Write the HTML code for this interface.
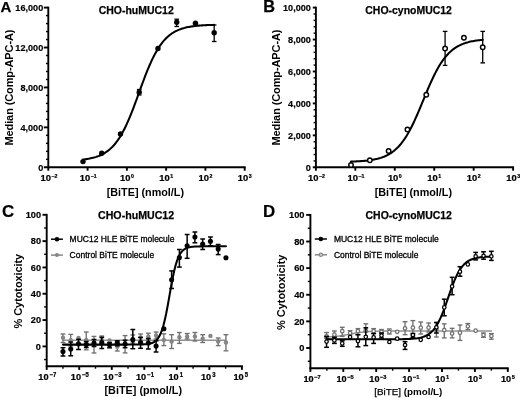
<!DOCTYPE html>
<html lang="en"><head><meta charset="utf-8"><title>Figure</title>
<style>html,body{margin:0;padding:0;background:#fff;}body{width:520px;height:398px;overflow:hidden;}svg{display:block;}</style>
</head><body>
<svg width="520" height="398" viewBox="0 0 520 398" font-family='"Liberation Sans", sans-serif'>
<defs><filter id="soft" x="0" y="0" width="520" height="398" filterUnits="userSpaceOnUse"><feGaussianBlur stdDeviation="0.35"/></filter></defs>
<rect width="520" height="398" fill="#fff"/>
<g filter="url(#soft)">
<line x1="48.30" y1="6.65" x2="48.30" y2="170.70" stroke="#000" stroke-width="1.9" stroke-linecap="butt"/>
<line x1="43.80" y1="167.30" x2="245.65" y2="167.30" stroke="#000" stroke-width="1.9" stroke-linecap="butt"/>
<text transform="translate(43.20,170.50) scale(0.93,1)" font-size="9.8" font-weight="bold" text-anchor="end" fill="#000" stroke="#000" stroke-width="0.2">0</text>
<line x1="46.00" y1="159.31" x2="48.30" y2="159.31" stroke="#000" stroke-width="1.45" stroke-linecap="butt"/>
<line x1="46.00" y1="151.33" x2="48.30" y2="151.33" stroke="#000" stroke-width="1.45" stroke-linecap="butt"/>
<line x1="46.00" y1="143.34" x2="48.30" y2="143.34" stroke="#000" stroke-width="1.45" stroke-linecap="butt"/>
<line x1="46.00" y1="135.36" x2="48.30" y2="135.36" stroke="#000" stroke-width="1.45" stroke-linecap="butt"/>
<line x1="43.80" y1="127.38" x2="48.30" y2="127.38" stroke="#000" stroke-width="1.9" stroke-linecap="butt"/>
<text transform="translate(43.20,130.57) scale(0.93,1)" font-size="9.8" font-weight="bold" text-anchor="end" fill="#000" stroke="#000" stroke-width="0.2">4,000</text>
<line x1="46.00" y1="119.39" x2="48.30" y2="119.39" stroke="#000" stroke-width="1.45" stroke-linecap="butt"/>
<line x1="46.00" y1="111.41" x2="48.30" y2="111.41" stroke="#000" stroke-width="1.45" stroke-linecap="butt"/>
<line x1="46.00" y1="103.42" x2="48.30" y2="103.42" stroke="#000" stroke-width="1.45" stroke-linecap="butt"/>
<line x1="46.00" y1="95.44" x2="48.30" y2="95.44" stroke="#000" stroke-width="1.45" stroke-linecap="butt"/>
<line x1="43.80" y1="87.45" x2="48.30" y2="87.45" stroke="#000" stroke-width="1.9" stroke-linecap="butt"/>
<text transform="translate(43.20,90.65) scale(0.93,1)" font-size="9.8" font-weight="bold" text-anchor="end" fill="#000" stroke="#000" stroke-width="0.2">8,000</text>
<line x1="46.00" y1="79.47" x2="48.30" y2="79.47" stroke="#000" stroke-width="1.45" stroke-linecap="butt"/>
<line x1="46.00" y1="71.48" x2="48.30" y2="71.48" stroke="#000" stroke-width="1.45" stroke-linecap="butt"/>
<line x1="46.00" y1="63.50" x2="48.30" y2="63.50" stroke="#000" stroke-width="1.45" stroke-linecap="butt"/>
<line x1="46.00" y1="55.51" x2="48.30" y2="55.51" stroke="#000" stroke-width="1.45" stroke-linecap="butt"/>
<line x1="43.80" y1="47.53" x2="48.30" y2="47.53" stroke="#000" stroke-width="1.9" stroke-linecap="butt"/>
<text transform="translate(43.20,50.73) scale(0.93,1)" font-size="9.8" font-weight="bold" text-anchor="end" fill="#000" stroke="#000" stroke-width="0.2">12,000</text>
<line x1="46.00" y1="39.54" x2="48.30" y2="39.54" stroke="#000" stroke-width="1.45" stroke-linecap="butt"/>
<line x1="46.00" y1="31.56" x2="48.30" y2="31.56" stroke="#000" stroke-width="1.45" stroke-linecap="butt"/>
<line x1="46.00" y1="23.57" x2="48.30" y2="23.57" stroke="#000" stroke-width="1.45" stroke-linecap="butt"/>
<line x1="46.00" y1="15.59" x2="48.30" y2="15.59" stroke="#000" stroke-width="1.45" stroke-linecap="butt"/>
<line x1="43.80" y1="7.60" x2="48.30" y2="7.60" stroke="#000" stroke-width="1.9" stroke-linecap="butt"/>
<text transform="translate(43.20,10.80) scale(0.93,1)" font-size="9.8" font-weight="bold" text-anchor="end" fill="#000" stroke="#000" stroke-width="0.2">16,000</text>
<text transform="translate(40.50,180.80) scale(0.98,1)" font-size="9.6" font-weight="bold" fill="#000" stroke="#000" stroke-width="0.25">10<tspan font-size="5.3" dx="0.51" dy="-2.70">−2</tspan></text>
<line x1="87.58" y1="167.30" x2="87.58" y2="170.70" stroke="#000" stroke-width="1.9" stroke-linecap="butt"/>
<text transform="translate(79.78,180.80) scale(0.98,1)" font-size="9.6" font-weight="bold" fill="#000" stroke="#000" stroke-width="0.25">10<tspan font-size="5.3" dx="0.51" dy="-2.70">−1</tspan></text>
<line x1="126.86" y1="167.30" x2="126.86" y2="170.70" stroke="#000" stroke-width="1.9" stroke-linecap="butt"/>
<text transform="translate(119.96,180.80) scale(0.98,1)" font-size="9.6" font-weight="bold" fill="#000" stroke="#000" stroke-width="0.25">10<tspan font-size="5.3" dx="0.51" dy="-2.70">0</tspan></text>
<line x1="166.14" y1="167.30" x2="166.14" y2="170.70" stroke="#000" stroke-width="1.9" stroke-linecap="butt"/>
<text transform="translate(159.24,180.80) scale(0.98,1)" font-size="9.6" font-weight="bold" fill="#000" stroke="#000" stroke-width="0.25">10<tspan font-size="5.3" dx="0.51" dy="-2.70">1</tspan></text>
<line x1="205.42" y1="167.30" x2="205.42" y2="170.70" stroke="#000" stroke-width="1.9" stroke-linecap="butt"/>
<text transform="translate(198.52,180.80) scale(0.98,1)" font-size="9.6" font-weight="bold" fill="#000" stroke="#000" stroke-width="0.25">10<tspan font-size="5.3" dx="0.51" dy="-2.70">2</tspan></text>
<line x1="244.70" y1="167.30" x2="244.70" y2="170.70" stroke="#000" stroke-width="1.9" stroke-linecap="butt"/>
<text transform="translate(237.80,180.80) scale(0.98,1)" font-size="9.6" font-weight="bold" fill="#000" stroke="#000" stroke-width="0.25">10<tspan font-size="5.3" dx="0.51" dy="-2.70">3</tspan></text>
<text x="98.70" y="14.40" font-size="11.3" font-weight="bold" text-anchor="start" fill="#000" textLength="75.1" lengthAdjust="spacingAndGlyphs" stroke="#000" stroke-width="0.25">CHO-huMUC12</text>
<text x="0.50" y="11.90" font-size="15.0" font-weight="bold" text-anchor="start" fill="#000" stroke="#000" stroke-width="0.25">A</text>
<text transform="translate(12.5,87.5) rotate(-90)" font-size="11" font-weight="bold" text-anchor="middle" fill="#000" textLength="116" lengthAdjust="spacing">Median (Comp-APC-A)</text>
<text x="145.40" y="196.30" font-size="10.8" font-weight="bold" text-anchor="middle" fill="#000" >[BiTE] (nmol/L)</text>
<path d="M83.00,159.56 L84.09,159.42 L85.19,159.28 L86.28,159.12 L87.37,158.95 L88.47,158.76 L89.56,158.56 L90.65,158.33 L91.75,158.09 L92.84,157.83 L93.93,157.54 L95.03,157.23 L96.12,156.89 L97.21,156.52 L98.31,156.12 L99.40,155.69 L100.49,155.21 L101.59,154.70 L102.68,154.15 L103.77,153.55 L104.86,152.90 L105.96,152.20 L107.05,151.44 L108.14,150.62 L109.24,149.74 L110.33,148.79 L111.42,147.77 L112.52,146.68 L113.61,145.50 L114.70,144.25 L115.80,142.90 L116.89,141.47 L117.98,139.94 L119.08,138.31 L120.17,136.59 L121.26,134.77 L122.36,132.84 L123.45,130.81 L124.54,128.68 L125.64,126.45 L126.73,124.12 L127.82,121.69 L128.92,119.17 L130.01,116.56 L131.10,113.87 L132.20,111.11 L133.29,108.27 L134.38,105.39 L135.48,102.45 L136.57,99.48 L137.66,96.48 L138.76,93.46 L139.85,90.45 L140.94,87.44 L142.04,84.46 L143.13,81.50 L144.22,78.59 L145.31,75.73 L146.41,72.94 L147.50,70.21 L148.59,67.57 L149.69,65.01 L150.78,62.54 L151.87,60.16 L152.97,57.88 L154.06,55.71 L155.15,53.63 L156.25,51.66 L157.34,49.79 L158.43,48.03 L159.53,46.36 L160.62,44.79 L161.71,43.31 L162.81,41.93 L163.90,40.63 L164.99,39.42 L166.09,38.29 L167.18,37.23 L168.27,36.25 L169.37,35.34 L170.46,34.50 L171.55,33.71 L172.65,32.99 L173.74,32.31 L174.83,31.69 L175.93,31.12 L177.02,30.59 L178.11,30.10 L179.21,29.65 L180.30,29.23 L181.39,28.85 L182.49,28.50 L183.58,28.18 L184.67,27.88 L185.76,27.60 L186.86,27.35 L187.95,27.12 L189.04,26.91 L190.14,26.71 L191.23,26.53 L192.32,26.37 L193.42,26.22 L194.51,26.08 L195.60,25.95 L196.70,25.84 L197.79,25.73 L198.88,25.63 L199.98,25.54 L201.07,25.46 L202.16,25.39 L203.26,25.32 L204.35,25.25 L205.44,25.20 L206.54,25.14 L207.63,25.10 L208.72,25.05 L209.82,25.01 L210.91,24.97 L212.00,24.94 L213.10,24.91 L214.19,24.88" fill="none" stroke="#000" stroke-width="2.05" stroke-linejoin="round" stroke-linecap="round"/>
<circle cx="83.00" cy="161.60" r="2.7" fill="#000"/>
<circle cx="101.74" cy="153.30" r="2.7" fill="#000"/>
<circle cx="120.48" cy="134.00" r="2.7" fill="#000"/>
<line x1="139.22" y1="89.50" x2="139.22" y2="95.00" stroke="#000" stroke-width="1.3" stroke-linecap="butt"/>
<line x1="136.92" y1="89.50" x2="141.52" y2="89.50" stroke="#000" stroke-width="1.3" stroke-linecap="butt"/>
<line x1="136.92" y1="95.00" x2="141.52" y2="95.00" stroke="#000" stroke-width="1.3" stroke-linecap="butt"/>
<circle cx="139.22" cy="92.30" r="2.7" fill="#000"/>
<circle cx="157.97" cy="48.50" r="2.7" fill="#000"/>
<line x1="176.71" y1="19.20" x2="176.71" y2="26.50" stroke="#000" stroke-width="1.3" stroke-linecap="butt"/>
<line x1="174.41" y1="19.20" x2="179.01" y2="19.20" stroke="#000" stroke-width="1.3" stroke-linecap="butt"/>
<line x1="174.41" y1="26.50" x2="179.01" y2="26.50" stroke="#000" stroke-width="1.3" stroke-linecap="butt"/>
<circle cx="176.71" cy="22.20" r="2.7" fill="#000"/>
<circle cx="195.45" cy="23.30" r="2.7" fill="#000"/>
<line x1="214.19" y1="25.00" x2="214.19" y2="41.50" stroke="#000" stroke-width="1.3" stroke-linecap="butt"/>
<line x1="211.89" y1="25.00" x2="216.49" y2="25.00" stroke="#000" stroke-width="1.3" stroke-linecap="butt"/>
<line x1="211.89" y1="41.50" x2="216.49" y2="41.50" stroke="#000" stroke-width="1.3" stroke-linecap="butt"/>
<circle cx="214.19" cy="32.70" r="2.7" fill="#000"/>
<line x1="315.90" y1="6.65" x2="315.90" y2="170.70" stroke="#000" stroke-width="1.9" stroke-linecap="butt"/>
<line x1="312.80" y1="167.30" x2="514.05" y2="167.30" stroke="#000" stroke-width="1.9" stroke-linecap="butt"/>
<text transform="translate(310.90,170.50) scale(0.93,1)" font-size="9.8" font-weight="bold" text-anchor="end" fill="#000" stroke="#000" stroke-width="0.2">0</text>
<line x1="313.60" y1="160.91" x2="315.90" y2="160.91" stroke="#000" stroke-width="1.45" stroke-linecap="butt"/>
<line x1="313.60" y1="154.52" x2="315.90" y2="154.52" stroke="#000" stroke-width="1.45" stroke-linecap="butt"/>
<line x1="313.60" y1="148.14" x2="315.90" y2="148.14" stroke="#000" stroke-width="1.45" stroke-linecap="butt"/>
<line x1="313.60" y1="141.75" x2="315.90" y2="141.75" stroke="#000" stroke-width="1.45" stroke-linecap="butt"/>
<line x1="312.80" y1="135.36" x2="315.90" y2="135.36" stroke="#000" stroke-width="1.9" stroke-linecap="butt"/>
<text transform="translate(310.90,138.56) scale(0.93,1)" font-size="9.8" font-weight="bold" text-anchor="end" fill="#000" stroke="#000" stroke-width="0.2">2,000</text>
<line x1="313.60" y1="128.97" x2="315.90" y2="128.97" stroke="#000" stroke-width="1.45" stroke-linecap="butt"/>
<line x1="313.60" y1="122.58" x2="315.90" y2="122.58" stroke="#000" stroke-width="1.45" stroke-linecap="butt"/>
<line x1="313.60" y1="116.20" x2="315.90" y2="116.20" stroke="#000" stroke-width="1.45" stroke-linecap="butt"/>
<line x1="313.60" y1="109.81" x2="315.90" y2="109.81" stroke="#000" stroke-width="1.45" stroke-linecap="butt"/>
<line x1="312.80" y1="103.42" x2="315.90" y2="103.42" stroke="#000" stroke-width="1.9" stroke-linecap="butt"/>
<text transform="translate(310.90,106.62) scale(0.93,1)" font-size="9.8" font-weight="bold" text-anchor="end" fill="#000" stroke="#000" stroke-width="0.2">4,000</text>
<line x1="313.60" y1="97.03" x2="315.90" y2="97.03" stroke="#000" stroke-width="1.45" stroke-linecap="butt"/>
<line x1="313.60" y1="90.64" x2="315.90" y2="90.64" stroke="#000" stroke-width="1.45" stroke-linecap="butt"/>
<line x1="313.60" y1="84.26" x2="315.90" y2="84.26" stroke="#000" stroke-width="1.45" stroke-linecap="butt"/>
<line x1="313.60" y1="77.87" x2="315.90" y2="77.87" stroke="#000" stroke-width="1.45" stroke-linecap="butt"/>
<line x1="312.80" y1="71.48" x2="315.90" y2="71.48" stroke="#000" stroke-width="1.9" stroke-linecap="butt"/>
<text transform="translate(310.90,74.68) scale(0.93,1)" font-size="9.8" font-weight="bold" text-anchor="end" fill="#000" stroke="#000" stroke-width="0.2">6,000</text>
<line x1="313.60" y1="65.09" x2="315.90" y2="65.09" stroke="#000" stroke-width="1.45" stroke-linecap="butt"/>
<line x1="313.60" y1="58.70" x2="315.90" y2="58.70" stroke="#000" stroke-width="1.45" stroke-linecap="butt"/>
<line x1="313.60" y1="52.32" x2="315.90" y2="52.32" stroke="#000" stroke-width="1.45" stroke-linecap="butt"/>
<line x1="313.60" y1="45.93" x2="315.90" y2="45.93" stroke="#000" stroke-width="1.45" stroke-linecap="butt"/>
<line x1="312.80" y1="39.54" x2="315.90" y2="39.54" stroke="#000" stroke-width="1.9" stroke-linecap="butt"/>
<text transform="translate(310.90,42.74) scale(0.93,1)" font-size="9.8" font-weight="bold" text-anchor="end" fill="#000" stroke="#000" stroke-width="0.2">8,000</text>
<line x1="313.60" y1="33.15" x2="315.90" y2="33.15" stroke="#000" stroke-width="1.45" stroke-linecap="butt"/>
<line x1="313.60" y1="26.76" x2="315.90" y2="26.76" stroke="#000" stroke-width="1.45" stroke-linecap="butt"/>
<line x1="313.60" y1="20.38" x2="315.90" y2="20.38" stroke="#000" stroke-width="1.45" stroke-linecap="butt"/>
<line x1="313.60" y1="13.99" x2="315.90" y2="13.99" stroke="#000" stroke-width="1.45" stroke-linecap="butt"/>
<line x1="312.80" y1="7.60" x2="315.90" y2="7.60" stroke="#000" stroke-width="1.9" stroke-linecap="butt"/>
<text transform="translate(310.90,10.80) scale(0.93,1)" font-size="9.8" font-weight="bold" text-anchor="end" fill="#000" stroke="#000" stroke-width="0.2">10,000</text>
<text transform="translate(308.10,180.80) scale(0.98,1)" font-size="9.6" font-weight="bold" fill="#000" stroke="#000" stroke-width="0.25">10<tspan font-size="5.3" dx="0.51" dy="-2.70">−2</tspan></text>
<line x1="355.34" y1="167.30" x2="355.34" y2="170.70" stroke="#000" stroke-width="1.9" stroke-linecap="butt"/>
<text transform="translate(347.54,180.80) scale(0.98,1)" font-size="9.6" font-weight="bold" fill="#000" stroke="#000" stroke-width="0.25">10<tspan font-size="5.3" dx="0.51" dy="-2.70">−1</tspan></text>
<line x1="394.78" y1="167.30" x2="394.78" y2="170.70" stroke="#000" stroke-width="1.9" stroke-linecap="butt"/>
<text transform="translate(387.88,180.80) scale(0.98,1)" font-size="9.6" font-weight="bold" fill="#000" stroke="#000" stroke-width="0.25">10<tspan font-size="5.3" dx="0.51" dy="-2.70">0</tspan></text>
<line x1="434.22" y1="167.30" x2="434.22" y2="170.70" stroke="#000" stroke-width="1.9" stroke-linecap="butt"/>
<text transform="translate(427.32,180.80) scale(0.98,1)" font-size="9.6" font-weight="bold" fill="#000" stroke="#000" stroke-width="0.25">10<tspan font-size="5.3" dx="0.51" dy="-2.70">1</tspan></text>
<line x1="473.66" y1="167.30" x2="473.66" y2="170.70" stroke="#000" stroke-width="1.9" stroke-linecap="butt"/>
<text transform="translate(466.76,180.80) scale(0.98,1)" font-size="9.6" font-weight="bold" fill="#000" stroke="#000" stroke-width="0.25">10<tspan font-size="5.3" dx="0.51" dy="-2.70">2</tspan></text>
<line x1="513.10" y1="167.30" x2="513.10" y2="170.70" stroke="#000" stroke-width="1.9" stroke-linecap="butt"/>
<text transform="translate(506.20,180.80) scale(0.98,1)" font-size="9.6" font-weight="bold" fill="#000" stroke="#000" stroke-width="0.25">10<tspan font-size="5.3" dx="0.51" dy="-2.70">3</tspan></text>
<text x="365.30" y="14.40" font-size="11.3" font-weight="bold" text-anchor="start" fill="#000" textLength="86.6" lengthAdjust="spacingAndGlyphs" stroke="#000" stroke-width="0.25">CHO-cynoMUC12</text>
<text x="263.30" y="12.20" font-size="16.3" font-weight="bold" text-anchor="start" fill="#000" stroke="#000" stroke-width="0.25">B</text>
<text transform="translate(280.4,87.5) rotate(-90)" font-size="11" font-weight="bold" text-anchor="middle" fill="#000" textLength="116" lengthAdjust="spacing">Median (Comp-APC-A)</text>
<text x="413.40" y="196.30" font-size="10.8" font-weight="bold" text-anchor="middle" fill="#000" >[BiTE] (nmol/L)</text>
<path d="M351.00,161.61 L352.10,161.58 L353.20,161.54 L354.29,161.49 L355.39,161.44 L356.49,161.39 L357.59,161.33 L358.68,161.27 L359.78,161.20 L360.88,161.13 L361.98,161.05 L363.07,160.96 L364.17,160.86 L365.27,160.76 L366.37,160.65 L367.47,160.52 L368.56,160.39 L369.66,160.24 L370.76,160.08 L371.86,159.91 L372.95,159.72 L374.05,159.52 L375.15,159.30 L376.25,159.06 L377.34,158.80 L378.44,158.51 L379.54,158.20 L380.64,157.87 L381.74,157.51 L382.83,157.11 L383.93,156.69 L385.03,156.23 L386.13,155.73 L387.22,155.20 L388.32,154.61 L389.42,153.99 L390.52,153.31 L391.61,152.59 L392.71,151.80 L393.81,150.96 L394.91,150.06 L396.01,149.09 L397.10,148.05 L398.20,146.94 L399.30,145.76 L400.40,144.50 L401.49,143.16 L402.59,141.73 L403.69,140.22 L404.79,138.63 L405.88,136.94 L406.98,135.17 L408.08,133.31 L409.18,131.36 L410.28,129.32 L411.37,127.20 L412.47,125.00 L413.57,122.72 L414.67,120.37 L415.76,117.95 L416.86,115.47 L417.96,112.94 L419.06,110.36 L420.15,107.75 L421.25,105.11 L422.35,102.45 L423.45,99.78 L424.55,97.12 L425.64,94.47 L426.74,91.84 L427.84,89.24 L428.94,86.68 L430.03,84.17 L431.13,81.72 L432.23,79.33 L433.33,77.01 L434.42,74.77 L435.52,72.60 L436.62,70.52 L437.72,68.52 L438.82,66.61 L439.91,64.79 L441.01,63.06 L442.11,61.41 L443.21,59.85 L444.30,58.38 L445.40,57.00 L446.50,55.69 L447.60,54.47 L448.70,53.32 L449.79,52.24 L450.89,51.24 L451.99,50.30 L453.09,49.42 L454.18,48.61 L455.28,47.85 L456.38,47.15 L457.48,46.49 L458.57,45.89 L459.67,45.33 L460.77,44.81 L461.87,44.33 L462.97,43.89 L464.06,43.48 L465.16,43.10 L466.26,42.75 L467.36,42.43 L468.45,42.13 L469.55,41.85 L470.65,41.60 L471.75,41.37 L472.84,41.16 L473.94,40.96 L475.04,40.78 L476.14,40.61 L477.24,40.46 L478.33,40.32 L479.43,40.19 L480.53,40.07 L481.63,39.96 L482.72,39.86" fill="none" stroke="#000" stroke-width="2.05" stroke-linejoin="round" stroke-linecap="round"/>
<circle cx="351.00" cy="164.90" r="2.23" fill="#fff" stroke="#000" stroke-width="1.45"/>
<circle cx="369.82" cy="160.30" r="2.23" fill="#fff" stroke="#000" stroke-width="1.45"/>
<circle cx="388.64" cy="151.00" r="2.23" fill="#fff" stroke="#000" stroke-width="1.45"/>
<circle cx="407.45" cy="129.40" r="2.23" fill="#fff" stroke="#000" stroke-width="1.45"/>
<circle cx="426.27" cy="94.80" r="2.23" fill="#fff" stroke="#000" stroke-width="1.45"/>
<line x1="445.09" y1="31.40" x2="445.09" y2="65.40" stroke="#000" stroke-width="1.3" stroke-linecap="butt"/>
<line x1="442.79" y1="31.40" x2="447.39" y2="31.40" stroke="#000" stroke-width="1.3" stroke-linecap="butt"/>
<line x1="442.79" y1="65.40" x2="447.39" y2="65.40" stroke="#000" stroke-width="1.3" stroke-linecap="butt"/>
<circle cx="445.09" cy="48.50" r="2.23" fill="#fff" stroke="#000" stroke-width="1.45"/>
<circle cx="463.91" cy="37.70" r="2.23" fill="#fff" stroke="#000" stroke-width="1.45"/>
<line x1="482.72" y1="31.40" x2="482.72" y2="62.90" stroke="#000" stroke-width="1.3" stroke-linecap="butt"/>
<line x1="480.42" y1="31.40" x2="485.02" y2="31.40" stroke="#000" stroke-width="1.3" stroke-linecap="butt"/>
<line x1="480.42" y1="62.90" x2="485.02" y2="62.90" stroke="#000" stroke-width="1.3" stroke-linecap="butt"/>
<circle cx="482.72" cy="47.30" r="2.23" fill="#fff" stroke="#000" stroke-width="1.45"/>
<line x1="46.70" y1="213.85" x2="46.70" y2="369.90" stroke="#000" stroke-width="1.9" stroke-linecap="butt"/>
<line x1="45.75" y1="366.30" x2="242.85" y2="366.30" stroke="#000" stroke-width="1.9" stroke-linecap="butt"/>
<line x1="42.50" y1="346.40" x2="46.70" y2="346.40" stroke="#000" stroke-width="1.9" stroke-linecap="butt"/>
<text transform="translate(41.00,349.60) scale(0.96,1)" font-size="9.6" font-weight="bold" text-anchor="end" fill="#000" stroke="#000" stroke-width="0.2">0</text>
<line x1="42.50" y1="320.08" x2="46.70" y2="320.08" stroke="#000" stroke-width="1.9" stroke-linecap="butt"/>
<text transform="translate(41.00,323.28) scale(0.96,1)" font-size="9.6" font-weight="bold" text-anchor="end" fill="#000" stroke="#000" stroke-width="0.2">20</text>
<line x1="42.50" y1="293.76" x2="46.70" y2="293.76" stroke="#000" stroke-width="1.9" stroke-linecap="butt"/>
<text transform="translate(41.00,296.96) scale(0.96,1)" font-size="9.6" font-weight="bold" text-anchor="end" fill="#000" stroke="#000" stroke-width="0.2">40</text>
<line x1="42.50" y1="267.44" x2="46.70" y2="267.44" stroke="#000" stroke-width="1.9" stroke-linecap="butt"/>
<text transform="translate(41.00,270.64) scale(0.96,1)" font-size="9.6" font-weight="bold" text-anchor="end" fill="#000" stroke="#000" stroke-width="0.2">60</text>
<line x1="42.50" y1="241.12" x2="46.70" y2="241.12" stroke="#000" stroke-width="1.9" stroke-linecap="butt"/>
<text transform="translate(41.00,244.32) scale(0.96,1)" font-size="9.6" font-weight="bold" text-anchor="end" fill="#000" stroke="#000" stroke-width="0.2">80</text>
<line x1="42.50" y1="214.80" x2="46.70" y2="214.80" stroke="#000" stroke-width="1.9" stroke-linecap="butt"/>
<text transform="translate(41.00,218.00) scale(0.96,1)" font-size="9.6" font-weight="bold" text-anchor="end" fill="#000" stroke="#000" stroke-width="0.2">100</text>
<line x1="44.10" y1="359.56" x2="46.70" y2="359.56" stroke="#000" stroke-width="1.4" stroke-linecap="butt"/>
<line x1="44.10" y1="333.24" x2="46.70" y2="333.24" stroke="#000" stroke-width="1.4" stroke-linecap="butt"/>
<line x1="44.10" y1="306.92" x2="46.70" y2="306.92" stroke="#000" stroke-width="1.4" stroke-linecap="butt"/>
<line x1="44.10" y1="280.60" x2="46.70" y2="280.60" stroke="#000" stroke-width="1.4" stroke-linecap="butt"/>
<line x1="44.10" y1="254.28" x2="46.70" y2="254.28" stroke="#000" stroke-width="1.4" stroke-linecap="butt"/>
<line x1="44.10" y1="227.96" x2="46.70" y2="227.96" stroke="#000" stroke-width="1.4" stroke-linecap="butt"/>
<text transform="translate(38.30,380.40) scale(0.94,1)" font-size="9.8" font-weight="bold" fill="#000" stroke="#000" stroke-width="0.25">10<tspan font-size="6.3" dx="1.17" dy="-3.40">−7</tspan></text>
<line x1="62.97" y1="366.30" x2="62.97" y2="368.70" stroke="#000" stroke-width="1.4" stroke-linecap="butt"/>
<line x1="79.23" y1="366.30" x2="79.23" y2="369.90" stroke="#000" stroke-width="1.9" stroke-linecap="butt"/>
<text transform="translate(70.83,380.40) scale(0.94,1)" font-size="9.8" font-weight="bold" fill="#000" stroke="#000" stroke-width="0.25">10<tspan font-size="6.3" dx="1.17" dy="-3.40">−5</tspan></text>
<line x1="95.50" y1="366.30" x2="95.50" y2="368.70" stroke="#000" stroke-width="1.4" stroke-linecap="butt"/>
<line x1="111.77" y1="366.30" x2="111.77" y2="369.90" stroke="#000" stroke-width="1.9" stroke-linecap="butt"/>
<text transform="translate(103.37,380.40) scale(0.94,1)" font-size="9.8" font-weight="bold" fill="#000" stroke="#000" stroke-width="0.25">10<tspan font-size="6.3" dx="1.17" dy="-3.40">−3</tspan></text>
<line x1="128.03" y1="366.30" x2="128.03" y2="368.70" stroke="#000" stroke-width="1.4" stroke-linecap="butt"/>
<line x1="144.30" y1="366.30" x2="144.30" y2="369.90" stroke="#000" stroke-width="1.9" stroke-linecap="butt"/>
<text transform="translate(135.90,380.40) scale(0.94,1)" font-size="9.8" font-weight="bold" fill="#000" stroke="#000" stroke-width="0.25">10<tspan font-size="6.3" dx="1.17" dy="-3.40">−1</tspan></text>
<line x1="160.57" y1="366.30" x2="160.57" y2="368.70" stroke="#000" stroke-width="1.4" stroke-linecap="butt"/>
<line x1="176.83" y1="366.30" x2="176.83" y2="369.90" stroke="#000" stroke-width="1.9" stroke-linecap="butt"/>
<text transform="translate(168.43,380.40) scale(0.94,1)" font-size="9.8" font-weight="bold" fill="#000" stroke="#000" stroke-width="0.25">10<tspan font-size="6.3" dx="1.17" dy="-3.40">1</tspan></text>
<line x1="193.10" y1="366.30" x2="193.10" y2="368.70" stroke="#000" stroke-width="1.4" stroke-linecap="butt"/>
<line x1="209.37" y1="366.30" x2="209.37" y2="369.90" stroke="#000" stroke-width="1.9" stroke-linecap="butt"/>
<text transform="translate(200.97,380.40) scale(0.94,1)" font-size="9.8" font-weight="bold" fill="#000" stroke="#000" stroke-width="0.25">10<tspan font-size="6.3" dx="1.17" dy="-3.40">3</tspan></text>
<line x1="225.63" y1="366.30" x2="225.63" y2="368.70" stroke="#000" stroke-width="1.4" stroke-linecap="butt"/>
<line x1="241.90" y1="366.30" x2="241.90" y2="369.90" stroke="#000" stroke-width="1.9" stroke-linecap="butt"/>
<text transform="translate(233.50,380.40) scale(0.94,1)" font-size="9.8" font-weight="bold" fill="#000" stroke="#000" stroke-width="0.25">10<tspan font-size="6.3" dx="1.17" dy="-3.40">5</tspan></text>
<text x="98.00" y="218.50" font-size="11.3" font-weight="bold" text-anchor="start" fill="#000" textLength="76.2" lengthAdjust="spacingAndGlyphs" stroke="#000" stroke-width="0.25">CHO-huMUC12</text>
<text x="2.00" y="217.40" font-size="16.9" font-weight="bold" text-anchor="start" fill="#000" stroke="#000" stroke-width="0.2">C</text>
<text transform="translate(21.5,291.1) rotate(-90)" font-size="11" font-weight="bold" text-anchor="middle" fill="#000" textLength="74.6" lengthAdjust="spacing">% Cytotoxicity</text>
<text x="143.30" y="394.40" font-size="11" font-weight="bold" text-anchor="middle" fill="#000" textLength="77.6" lengthAdjust="spacingAndGlyphs">[BiTE] (pmol/L)</text>
<line x1="51.00" y1="239.20" x2="62.90" y2="239.20" stroke="#000" stroke-width="1.5" stroke-linecap="butt"/>
<circle cx="56.95" cy="239.20" r="2.3" fill="#000"/>
<text x="69.60" y="242.20" font-size="8.5" font-weight="normal" text-anchor="start" fill="#000" stroke="#000" stroke-width="0.3">MUC12 HLE BiTE molecule</text>
<line x1="51.00" y1="255.10" x2="62.90" y2="255.10" stroke="#858585" stroke-width="1.5" stroke-linecap="butt"/>
<circle cx="56.95" cy="255.10" r="2.0" fill="#858585"/>
<text x="69.60" y="258.10" font-size="8.5" font-weight="normal" text-anchor="start" fill="#000" stroke="#000" stroke-width="0.3">Control BiTE molecule</text>
<line x1="62.97" y1="340.30" x2="225.95" y2="340.30" stroke="#929292" stroke-width="1.5" stroke-linecap="butt"/>
<line x1="62.97" y1="334.00" x2="62.97" y2="342.50" stroke="#707070" stroke-width="1.35" stroke-linecap="butt"/>
<line x1="60.57" y1="334.00" x2="65.37" y2="334.00" stroke="#707070" stroke-width="1.35" stroke-linecap="butt"/>
<line x1="60.57" y1="342.50" x2="65.37" y2="342.50" stroke="#707070" stroke-width="1.35" stroke-linecap="butt"/>
<circle cx="62.97" cy="337.80" r="2.2" fill="#858585"/>
<line x1="70.73" y1="334.40" x2="70.73" y2="346.00" stroke="#707070" stroke-width="1.35" stroke-linecap="butt"/>
<line x1="68.33" y1="334.40" x2="73.13" y2="334.40" stroke="#707070" stroke-width="1.35" stroke-linecap="butt"/>
<line x1="68.33" y1="346.00" x2="73.13" y2="346.00" stroke="#707070" stroke-width="1.35" stroke-linecap="butt"/>
<circle cx="70.73" cy="340.30" r="2.2" fill="#858585"/>
<circle cx="78.49" cy="338.00" r="2.2" fill="#858585"/>
<line x1="86.25" y1="332.00" x2="86.25" y2="349.80" stroke="#707070" stroke-width="1.35" stroke-linecap="butt"/>
<line x1="83.85" y1="332.00" x2="88.65" y2="332.00" stroke="#707070" stroke-width="1.35" stroke-linecap="butt"/>
<line x1="83.85" y1="349.80" x2="88.65" y2="349.80" stroke="#707070" stroke-width="1.35" stroke-linecap="butt"/>
<circle cx="86.25" cy="340.00" r="2.2" fill="#858585"/>
<line x1="94.01" y1="336.40" x2="94.01" y2="353.00" stroke="#707070" stroke-width="1.35" stroke-linecap="butt"/>
<line x1="91.61" y1="336.40" x2="96.41" y2="336.40" stroke="#707070" stroke-width="1.35" stroke-linecap="butt"/>
<line x1="91.61" y1="353.00" x2="96.41" y2="353.00" stroke="#707070" stroke-width="1.35" stroke-linecap="butt"/>
<circle cx="94.01" cy="344.00" r="2.2" fill="#858585"/>
<line x1="101.77" y1="336.00" x2="101.77" y2="344.00" stroke="#707070" stroke-width="1.35" stroke-linecap="butt"/>
<line x1="99.37" y1="336.00" x2="104.17" y2="336.00" stroke="#707070" stroke-width="1.35" stroke-linecap="butt"/>
<line x1="99.37" y1="344.00" x2="104.17" y2="344.00" stroke="#707070" stroke-width="1.35" stroke-linecap="butt"/>
<circle cx="101.77" cy="340.00" r="2.2" fill="#858585"/>
<circle cx="109.53" cy="340.50" r="2.2" fill="#858585"/>
<line x1="117.29" y1="341.60" x2="117.29" y2="351.00" stroke="#707070" stroke-width="1.35" stroke-linecap="butt"/>
<line x1="114.89" y1="341.60" x2="119.69" y2="341.60" stroke="#707070" stroke-width="1.35" stroke-linecap="butt"/>
<line x1="114.89" y1="351.00" x2="119.69" y2="351.00" stroke="#707070" stroke-width="1.35" stroke-linecap="butt"/>
<circle cx="117.29" cy="346.80" r="2.2" fill="#858585"/>
<line x1="125.06" y1="335.60" x2="125.06" y2="352.90" stroke="#707070" stroke-width="1.35" stroke-linecap="butt"/>
<line x1="122.66" y1="335.60" x2="127.46" y2="335.60" stroke="#707070" stroke-width="1.35" stroke-linecap="butt"/>
<line x1="122.66" y1="352.90" x2="127.46" y2="352.90" stroke="#707070" stroke-width="1.35" stroke-linecap="butt"/>
<circle cx="125.06" cy="343.00" r="2.2" fill="#858585"/>
<line x1="132.82" y1="335.00" x2="132.82" y2="343.00" stroke="#707070" stroke-width="1.35" stroke-linecap="butt"/>
<line x1="130.42" y1="335.00" x2="135.22" y2="335.00" stroke="#707070" stroke-width="1.35" stroke-linecap="butt"/>
<line x1="130.42" y1="343.00" x2="135.22" y2="343.00" stroke="#707070" stroke-width="1.35" stroke-linecap="butt"/>
<circle cx="132.82" cy="339.00" r="2.2" fill="#858585"/>
<line x1="140.58" y1="334.00" x2="140.58" y2="341.50" stroke="#707070" stroke-width="1.35" stroke-linecap="butt"/>
<line x1="138.18" y1="334.00" x2="142.98" y2="334.00" stroke="#707070" stroke-width="1.35" stroke-linecap="butt"/>
<line x1="138.18" y1="341.50" x2="142.98" y2="341.50" stroke="#707070" stroke-width="1.35" stroke-linecap="butt"/>
<circle cx="140.58" cy="337.50" r="2.2" fill="#858585"/>
<line x1="148.34" y1="333.20" x2="148.34" y2="340.00" stroke="#707070" stroke-width="1.35" stroke-linecap="butt"/>
<line x1="145.94" y1="333.20" x2="150.74" y2="333.20" stroke="#707070" stroke-width="1.35" stroke-linecap="butt"/>
<line x1="145.94" y1="340.00" x2="150.74" y2="340.00" stroke="#707070" stroke-width="1.35" stroke-linecap="butt"/>
<circle cx="148.34" cy="336.50" r="2.2" fill="#858585"/>
<line x1="156.10" y1="332.00" x2="156.10" y2="339.00" stroke="#707070" stroke-width="1.35" stroke-linecap="butt"/>
<line x1="153.70" y1="332.00" x2="158.50" y2="332.00" stroke="#707070" stroke-width="1.35" stroke-linecap="butt"/>
<line x1="153.70" y1="339.00" x2="158.50" y2="339.00" stroke="#707070" stroke-width="1.35" stroke-linecap="butt"/>
<circle cx="156.10" cy="335.50" r="2.2" fill="#858585"/>
<line x1="163.86" y1="333.80" x2="163.86" y2="345.60" stroke="#707070" stroke-width="1.35" stroke-linecap="butt"/>
<line x1="161.46" y1="333.80" x2="166.26" y2="333.80" stroke="#707070" stroke-width="1.35" stroke-linecap="butt"/>
<line x1="161.46" y1="345.60" x2="166.26" y2="345.60" stroke="#707070" stroke-width="1.35" stroke-linecap="butt"/>
<circle cx="163.86" cy="340.00" r="2.2" fill="#858585"/>
<line x1="171.62" y1="334.70" x2="171.62" y2="348.50" stroke="#707070" stroke-width="1.35" stroke-linecap="butt"/>
<line x1="169.22" y1="334.70" x2="174.02" y2="334.70" stroke="#707070" stroke-width="1.35" stroke-linecap="butt"/>
<line x1="169.22" y1="348.50" x2="174.02" y2="348.50" stroke="#707070" stroke-width="1.35" stroke-linecap="butt"/>
<circle cx="171.62" cy="341.60" r="2.2" fill="#858585"/>
<line x1="179.38" y1="332.50" x2="179.38" y2="343.40" stroke="#707070" stroke-width="1.35" stroke-linecap="butt"/>
<line x1="176.98" y1="332.50" x2="181.78" y2="332.50" stroke="#707070" stroke-width="1.35" stroke-linecap="butt"/>
<line x1="176.98" y1="343.40" x2="181.78" y2="343.40" stroke="#707070" stroke-width="1.35" stroke-linecap="butt"/>
<circle cx="179.38" cy="337.30" r="2.2" fill="#858585"/>
<line x1="187.15" y1="333.50" x2="187.15" y2="339.00" stroke="#707070" stroke-width="1.35" stroke-linecap="butt"/>
<line x1="184.75" y1="333.50" x2="189.55" y2="333.50" stroke="#707070" stroke-width="1.35" stroke-linecap="butt"/>
<line x1="184.75" y1="339.00" x2="189.55" y2="339.00" stroke="#707070" stroke-width="1.35" stroke-linecap="butt"/>
<circle cx="187.15" cy="336.40" r="2.2" fill="#858585"/>
<line x1="194.91" y1="332.50" x2="194.91" y2="341.00" stroke="#707070" stroke-width="1.35" stroke-linecap="butt"/>
<line x1="192.51" y1="332.50" x2="197.31" y2="332.50" stroke="#707070" stroke-width="1.35" stroke-linecap="butt"/>
<line x1="192.51" y1="341.00" x2="197.31" y2="341.00" stroke="#707070" stroke-width="1.35" stroke-linecap="butt"/>
<circle cx="194.91" cy="336.40" r="2.2" fill="#858585"/>
<line x1="202.67" y1="334.70" x2="202.67" y2="342.50" stroke="#707070" stroke-width="1.35" stroke-linecap="butt"/>
<line x1="200.27" y1="334.70" x2="205.07" y2="334.70" stroke="#707070" stroke-width="1.35" stroke-linecap="butt"/>
<line x1="200.27" y1="342.50" x2="205.07" y2="342.50" stroke="#707070" stroke-width="1.35" stroke-linecap="butt"/>
<circle cx="202.67" cy="338.70" r="2.2" fill="#858585"/>
<circle cx="210.43" cy="335.90" r="2.2" fill="#858585"/>
<line x1="218.19" y1="338.00" x2="218.19" y2="345.60" stroke="#707070" stroke-width="1.35" stroke-linecap="butt"/>
<line x1="215.79" y1="338.00" x2="220.59" y2="338.00" stroke="#707070" stroke-width="1.35" stroke-linecap="butt"/>
<line x1="215.79" y1="345.60" x2="220.59" y2="345.60" stroke="#707070" stroke-width="1.35" stroke-linecap="butt"/>
<circle cx="218.19" cy="341.60" r="2.2" fill="#858585"/>
<line x1="225.95" y1="334.70" x2="225.95" y2="350.80" stroke="#707070" stroke-width="1.35" stroke-linecap="butt"/>
<line x1="223.55" y1="334.70" x2="228.35" y2="334.70" stroke="#707070" stroke-width="1.35" stroke-linecap="butt"/>
<line x1="223.55" y1="350.80" x2="228.35" y2="350.80" stroke="#707070" stroke-width="1.35" stroke-linecap="butt"/>
<circle cx="225.95" cy="342.50" r="2.2" fill="#858585"/>
<path d="M62.97,344.60 L64.32,344.60 L65.68,344.60 L67.04,344.60 L68.40,344.60 L69.76,344.60 L71.12,344.60 L72.47,344.60 L73.83,344.60 L75.19,344.60 L76.55,344.60 L77.91,344.60 L79.27,344.60 L80.62,344.60 L81.98,344.60 L83.34,344.60 L84.70,344.60 L86.06,344.60 L87.41,344.60 L88.77,344.60 L90.13,344.60 L91.49,344.60 L92.85,344.60 L94.21,344.60 L95.56,344.60 L96.92,344.60 L98.28,344.60 L99.64,344.60 L101.00,344.60 L102.35,344.60 L103.71,344.60 L105.07,344.60 L106.43,344.60 L107.79,344.60 L109.15,344.60 L110.50,344.60 L111.86,344.60 L113.22,344.60 L114.58,344.60 L115.94,344.60 L117.29,344.60 L118.65,344.60 L120.01,344.60 L121.37,344.60 L122.73,344.60 L124.09,344.60 L125.44,344.60 L126.80,344.60 L128.16,344.59 L129.52,344.59 L130.88,344.59 L132.24,344.58 L133.59,344.58 L134.95,344.57 L136.31,344.56 L137.67,344.54 L139.03,344.52 L140.38,344.49 L141.74,344.45 L143.10,344.39 L144.46,344.32 L145.82,344.21 L147.18,344.07 L148.53,343.87 L149.89,343.60 L151.25,343.23 L152.61,342.73 L153.97,342.06 L155.32,341.14 L156.68,339.91 L158.04,338.27 L159.40,336.11 L160.76,333.31 L162.12,329.73 L163.47,325.27 L164.83,319.87 L166.19,313.55 L167.55,306.46 L168.91,298.85 L170.26,291.07 L171.62,283.51 L172.98,276.50 L174.34,270.30 L175.70,265.01 L177.06,260.67 L178.41,257.20 L179.77,254.48 L181.13,252.40 L182.49,250.81 L183.85,249.63 L185.21,248.75 L186.56,248.09 L187.92,247.61 L189.28,247.26 L190.64,247.00 L192.00,246.81 L193.35,246.67 L194.71,246.57 L196.07,246.50 L197.43,246.44 L198.79,246.41 L200.15,246.38 L201.50,246.36 L202.86,246.34 L204.22,246.33 L205.58,246.32 L206.94,246.32 L208.29,246.31 L209.65,246.31 L211.01,246.31 L212.37,246.30 L213.73,246.30 L215.09,246.30 L216.44,246.30 L217.80,246.30 L219.16,246.30 L220.52,246.30 L221.88,246.30 L223.23,246.30 L224.59,246.30 L225.95,246.30" fill="none" stroke="#000" stroke-width="2.05" stroke-linejoin="round" stroke-linecap="round"/>
<line x1="62.97" y1="347.70" x2="62.97" y2="356.00" stroke="#000" stroke-width="1.5" stroke-linecap="butt"/>
<line x1="60.57" y1="347.70" x2="65.37" y2="347.70" stroke="#000" stroke-width="1.5" stroke-linecap="butt"/>
<line x1="60.57" y1="356.00" x2="65.37" y2="356.00" stroke="#000" stroke-width="1.5" stroke-linecap="butt"/>
<circle cx="62.97" cy="351.60" r="2.55" fill="#000"/>
<line x1="70.73" y1="342.00" x2="70.73" y2="355.80" stroke="#000" stroke-width="1.5" stroke-linecap="butt"/>
<line x1="68.33" y1="342.00" x2="73.13" y2="342.00" stroke="#000" stroke-width="1.5" stroke-linecap="butt"/>
<line x1="68.33" y1="355.80" x2="73.13" y2="355.80" stroke="#000" stroke-width="1.5" stroke-linecap="butt"/>
<circle cx="70.73" cy="349.00" r="2.55" fill="#000"/>
<line x1="78.49" y1="339.30" x2="78.49" y2="349.50" stroke="#000" stroke-width="1.5" stroke-linecap="butt"/>
<line x1="76.09" y1="339.30" x2="80.89" y2="339.30" stroke="#000" stroke-width="1.5" stroke-linecap="butt"/>
<line x1="76.09" y1="349.50" x2="80.89" y2="349.50" stroke="#000" stroke-width="1.5" stroke-linecap="butt"/>
<circle cx="78.49" cy="343.80" r="2.55" fill="#000"/>
<line x1="86.25" y1="341.50" x2="86.25" y2="347.50" stroke="#000" stroke-width="1.5" stroke-linecap="butt"/>
<line x1="83.85" y1="341.50" x2="88.65" y2="341.50" stroke="#000" stroke-width="1.5" stroke-linecap="butt"/>
<line x1="83.85" y1="347.50" x2="88.65" y2="347.50" stroke="#000" stroke-width="1.5" stroke-linecap="butt"/>
<circle cx="86.25" cy="344.40" r="2.55" fill="#000"/>
<line x1="94.01" y1="339.50" x2="94.01" y2="346.50" stroke="#000" stroke-width="1.5" stroke-linecap="butt"/>
<line x1="91.61" y1="339.50" x2="96.41" y2="339.50" stroke="#000" stroke-width="1.5" stroke-linecap="butt"/>
<line x1="91.61" y1="346.50" x2="96.41" y2="346.50" stroke="#000" stroke-width="1.5" stroke-linecap="butt"/>
<circle cx="94.01" cy="343.00" r="2.55" fill="#000"/>
<line x1="101.77" y1="337.30" x2="101.77" y2="348.50" stroke="#000" stroke-width="1.5" stroke-linecap="butt"/>
<line x1="99.37" y1="337.30" x2="104.17" y2="337.30" stroke="#000" stroke-width="1.5" stroke-linecap="butt"/>
<line x1="99.37" y1="348.50" x2="104.17" y2="348.50" stroke="#000" stroke-width="1.5" stroke-linecap="butt"/>
<circle cx="101.77" cy="342.50" r="2.55" fill="#000"/>
<line x1="109.53" y1="342.60" x2="109.53" y2="347.80" stroke="#000" stroke-width="1.5" stroke-linecap="butt"/>
<line x1="107.13" y1="342.60" x2="111.93" y2="342.60" stroke="#000" stroke-width="1.5" stroke-linecap="butt"/>
<line x1="107.13" y1="347.80" x2="111.93" y2="347.80" stroke="#000" stroke-width="1.5" stroke-linecap="butt"/>
<circle cx="109.53" cy="344.70" r="2.55" fill="#000"/>
<line x1="117.29" y1="340.80" x2="117.29" y2="345.80" stroke="#000" stroke-width="1.5" stroke-linecap="butt"/>
<line x1="114.89" y1="340.80" x2="119.69" y2="340.80" stroke="#000" stroke-width="1.5" stroke-linecap="butt"/>
<line x1="114.89" y1="345.80" x2="119.69" y2="345.80" stroke="#000" stroke-width="1.5" stroke-linecap="butt"/>
<circle cx="117.29" cy="343.30" r="2.55" fill="#000"/>
<line x1="125.06" y1="340.20" x2="125.06" y2="347.70" stroke="#000" stroke-width="1.5" stroke-linecap="butt"/>
<line x1="122.66" y1="340.20" x2="127.46" y2="340.20" stroke="#000" stroke-width="1.5" stroke-linecap="butt"/>
<line x1="122.66" y1="347.70" x2="127.46" y2="347.70" stroke="#000" stroke-width="1.5" stroke-linecap="butt"/>
<circle cx="125.06" cy="344.10" r="2.55" fill="#000"/>
<line x1="132.82" y1="329.50" x2="132.82" y2="348.70" stroke="#000" stroke-width="1.5" stroke-linecap="butt"/>
<line x1="130.42" y1="329.50" x2="135.22" y2="329.50" stroke="#000" stroke-width="1.5" stroke-linecap="butt"/>
<line x1="130.42" y1="348.70" x2="135.22" y2="348.70" stroke="#000" stroke-width="1.5" stroke-linecap="butt"/>
<circle cx="132.82" cy="339.70" r="2.55" fill="#000"/>
<line x1="140.58" y1="337.40" x2="140.58" y2="348.30" stroke="#000" stroke-width="1.5" stroke-linecap="butt"/>
<line x1="138.18" y1="337.40" x2="142.98" y2="337.40" stroke="#000" stroke-width="1.5" stroke-linecap="butt"/>
<line x1="138.18" y1="348.30" x2="142.98" y2="348.30" stroke="#000" stroke-width="1.5" stroke-linecap="butt"/>
<circle cx="140.58" cy="342.60" r="2.55" fill="#000"/>
<line x1="148.34" y1="338.50" x2="148.34" y2="349.00" stroke="#000" stroke-width="1.5" stroke-linecap="butt"/>
<line x1="145.94" y1="338.50" x2="150.74" y2="338.50" stroke="#000" stroke-width="1.5" stroke-linecap="butt"/>
<line x1="145.94" y1="349.00" x2="150.74" y2="349.00" stroke="#000" stroke-width="1.5" stroke-linecap="butt"/>
<circle cx="148.34" cy="343.00" r="2.55" fill="#000"/>
<line x1="156.10" y1="340.80" x2="156.10" y2="352.00" stroke="#000" stroke-width="1.5" stroke-linecap="butt"/>
<line x1="153.70" y1="340.80" x2="158.50" y2="340.80" stroke="#000" stroke-width="1.5" stroke-linecap="butt"/>
<line x1="153.70" y1="352.00" x2="158.50" y2="352.00" stroke="#000" stroke-width="1.5" stroke-linecap="butt"/>
<circle cx="156.10" cy="346.00" r="2.55" fill="#000"/>
<circle cx="163.86" cy="328.70" r="2.55" fill="#000"/>
<line x1="171.62" y1="270.90" x2="171.62" y2="288.50" stroke="#000" stroke-width="1.5" stroke-linecap="butt"/>
<line x1="169.22" y1="270.90" x2="174.02" y2="270.90" stroke="#000" stroke-width="1.5" stroke-linecap="butt"/>
<line x1="169.22" y1="288.50" x2="174.02" y2="288.50" stroke="#000" stroke-width="1.5" stroke-linecap="butt"/>
<circle cx="171.62" cy="279.70" r="2.55" fill="#000"/>
<line x1="179.38" y1="249.50" x2="179.38" y2="267.10" stroke="#000" stroke-width="1.5" stroke-linecap="butt"/>
<line x1="176.98" y1="249.50" x2="181.78" y2="249.50" stroke="#000" stroke-width="1.5" stroke-linecap="butt"/>
<line x1="176.98" y1="267.10" x2="181.78" y2="267.10" stroke="#000" stroke-width="1.5" stroke-linecap="butt"/>
<circle cx="179.38" cy="257.60" r="2.55" fill="#000"/>
<line x1="187.15" y1="234.50" x2="187.15" y2="258.30" stroke="#000" stroke-width="1.5" stroke-linecap="butt"/>
<line x1="184.75" y1="234.50" x2="189.55" y2="234.50" stroke="#000" stroke-width="1.5" stroke-linecap="butt"/>
<line x1="184.75" y1="258.30" x2="189.55" y2="258.30" stroke="#000" stroke-width="1.5" stroke-linecap="butt"/>
<circle cx="187.15" cy="245.80" r="2.55" fill="#000"/>
<line x1="194.91" y1="232.00" x2="194.91" y2="242.80" stroke="#000" stroke-width="1.5" stroke-linecap="butt"/>
<line x1="192.51" y1="232.00" x2="197.31" y2="232.00" stroke="#000" stroke-width="1.5" stroke-linecap="butt"/>
<line x1="192.51" y1="242.80" x2="197.31" y2="242.80" stroke="#000" stroke-width="1.5" stroke-linecap="butt"/>
<circle cx="194.91" cy="237.00" r="2.55" fill="#000"/>
<line x1="202.67" y1="239.00" x2="202.67" y2="249.50" stroke="#000" stroke-width="1.5" stroke-linecap="butt"/>
<line x1="200.27" y1="239.00" x2="205.07" y2="239.00" stroke="#000" stroke-width="1.5" stroke-linecap="butt"/>
<line x1="200.27" y1="249.50" x2="205.07" y2="249.50" stroke="#000" stroke-width="1.5" stroke-linecap="butt"/>
<circle cx="202.67" cy="244.00" r="2.55" fill="#000"/>
<line x1="210.43" y1="237.00" x2="210.43" y2="245.80" stroke="#000" stroke-width="1.5" stroke-linecap="butt"/>
<line x1="208.03" y1="237.00" x2="212.83" y2="237.00" stroke="#000" stroke-width="1.5" stroke-linecap="butt"/>
<line x1="208.03" y1="245.80" x2="212.83" y2="245.80" stroke="#000" stroke-width="1.5" stroke-linecap="butt"/>
<circle cx="210.43" cy="241.20" r="2.55" fill="#000"/>
<line x1="218.19" y1="244.50" x2="218.19" y2="254.60" stroke="#000" stroke-width="1.5" stroke-linecap="butt"/>
<line x1="215.79" y1="244.50" x2="220.59" y2="244.50" stroke="#000" stroke-width="1.5" stroke-linecap="butt"/>
<line x1="215.79" y1="254.60" x2="220.59" y2="254.60" stroke="#000" stroke-width="1.5" stroke-linecap="butt"/>
<circle cx="218.19" cy="249.00" r="2.55" fill="#000"/>
<circle cx="225.95" cy="257.80" r="2.55" fill="#000"/>
<line x1="310.40" y1="213.95" x2="310.40" y2="371.90" stroke="#000" stroke-width="1.9" stroke-linecap="butt"/>
<line x1="309.45" y1="368.30" x2="508.75" y2="368.30" stroke="#000" stroke-width="1.9" stroke-linecap="butt"/>
<line x1="306.20" y1="348.00" x2="310.40" y2="348.00" stroke="#000" stroke-width="1.9" stroke-linecap="butt"/>
<text transform="translate(304.50,351.20) scale(0.98,1)" font-size="9.5" font-weight="bold" text-anchor="end" fill="#000" stroke="#000" stroke-width="0.2">0</text>
<line x1="306.20" y1="321.38" x2="310.40" y2="321.38" stroke="#000" stroke-width="1.9" stroke-linecap="butt"/>
<text transform="translate(304.50,324.58) scale(0.98,1)" font-size="9.5" font-weight="bold" text-anchor="end" fill="#000" stroke="#000" stroke-width="0.2">20</text>
<line x1="306.20" y1="294.76" x2="310.40" y2="294.76" stroke="#000" stroke-width="1.9" stroke-linecap="butt"/>
<text transform="translate(304.50,297.96) scale(0.98,1)" font-size="9.5" font-weight="bold" text-anchor="end" fill="#000" stroke="#000" stroke-width="0.2">40</text>
<line x1="306.20" y1="268.14" x2="310.40" y2="268.14" stroke="#000" stroke-width="1.9" stroke-linecap="butt"/>
<text transform="translate(304.50,271.34) scale(0.98,1)" font-size="9.5" font-weight="bold" text-anchor="end" fill="#000" stroke="#000" stroke-width="0.2">60</text>
<line x1="306.20" y1="241.52" x2="310.40" y2="241.52" stroke="#000" stroke-width="1.9" stroke-linecap="butt"/>
<text transform="translate(304.50,244.72) scale(0.98,1)" font-size="9.5" font-weight="bold" text-anchor="end" fill="#000" stroke="#000" stroke-width="0.2">80</text>
<line x1="306.20" y1="214.90" x2="310.40" y2="214.90" stroke="#000" stroke-width="1.9" stroke-linecap="butt"/>
<text transform="translate(304.50,218.10) scale(0.98,1)" font-size="9.5" font-weight="bold" text-anchor="end" fill="#000" stroke="#000" stroke-width="0.2">100</text>
<line x1="307.80" y1="361.31" x2="310.40" y2="361.31" stroke="#000" stroke-width="1.4" stroke-linecap="butt"/>
<line x1="307.80" y1="334.69" x2="310.40" y2="334.69" stroke="#000" stroke-width="1.4" stroke-linecap="butt"/>
<line x1="307.80" y1="308.07" x2="310.40" y2="308.07" stroke="#000" stroke-width="1.4" stroke-linecap="butt"/>
<line x1="307.80" y1="281.45" x2="310.40" y2="281.45" stroke="#000" stroke-width="1.4" stroke-linecap="butt"/>
<line x1="307.80" y1="254.83" x2="310.40" y2="254.83" stroke="#000" stroke-width="1.4" stroke-linecap="butt"/>
<line x1="307.80" y1="228.21" x2="310.40" y2="228.21" stroke="#000" stroke-width="1.4" stroke-linecap="butt"/>
<text transform="translate(303.55,381.90) scale(0.97,1)" font-size="9.4" font-weight="bold" fill="#000" stroke="#000" stroke-width="0.25">10<tspan font-size="5.8" dx="0.62" dy="-2.80">−7</tspan></text>
<line x1="326.85" y1="368.30" x2="326.85" y2="370.70" stroke="#000" stroke-width="1.4" stroke-linecap="butt"/>
<line x1="343.30" y1="368.30" x2="343.30" y2="371.90" stroke="#000" stroke-width="1.9" stroke-linecap="butt"/>
<text transform="translate(336.45,381.90) scale(0.97,1)" font-size="9.4" font-weight="bold" fill="#000" stroke="#000" stroke-width="0.25">10<tspan font-size="5.8" dx="0.62" dy="-2.80">−5</tspan></text>
<line x1="359.75" y1="368.30" x2="359.75" y2="370.70" stroke="#000" stroke-width="1.4" stroke-linecap="butt"/>
<line x1="376.20" y1="368.30" x2="376.20" y2="371.90" stroke="#000" stroke-width="1.9" stroke-linecap="butt"/>
<text transform="translate(369.35,381.90) scale(0.97,1)" font-size="9.4" font-weight="bold" fill="#000" stroke="#000" stroke-width="0.25">10<tspan font-size="5.8" dx="0.62" dy="-2.80">−3</tspan></text>
<line x1="392.65" y1="368.30" x2="392.65" y2="370.70" stroke="#000" stroke-width="1.4" stroke-linecap="butt"/>
<line x1="409.10" y1="368.30" x2="409.10" y2="371.90" stroke="#000" stroke-width="1.9" stroke-linecap="butt"/>
<text transform="translate(402.25,381.90) scale(0.97,1)" font-size="9.4" font-weight="bold" fill="#000" stroke="#000" stroke-width="0.25">10<tspan font-size="5.8" dx="0.62" dy="-2.80">−1</tspan></text>
<line x1="425.55" y1="368.30" x2="425.55" y2="370.70" stroke="#000" stroke-width="1.4" stroke-linecap="butt"/>
<line x1="442.00" y1="368.30" x2="442.00" y2="371.90" stroke="#000" stroke-width="1.9" stroke-linecap="butt"/>
<text transform="translate(435.15,381.90) scale(0.97,1)" font-size="9.4" font-weight="bold" fill="#000" stroke="#000" stroke-width="0.25">10<tspan font-size="5.8" dx="0.62" dy="-2.80">1</tspan></text>
<line x1="458.45" y1="368.30" x2="458.45" y2="370.70" stroke="#000" stroke-width="1.4" stroke-linecap="butt"/>
<line x1="474.90" y1="368.30" x2="474.90" y2="371.90" stroke="#000" stroke-width="1.9" stroke-linecap="butt"/>
<text transform="translate(468.05,381.90) scale(0.97,1)" font-size="9.4" font-weight="bold" fill="#000" stroke="#000" stroke-width="0.25">10<tspan font-size="5.8" dx="0.62" dy="-2.80">3</tspan></text>
<line x1="491.35" y1="368.30" x2="491.35" y2="370.70" stroke="#000" stroke-width="1.4" stroke-linecap="butt"/>
<line x1="507.80" y1="368.30" x2="507.80" y2="371.90" stroke="#000" stroke-width="1.9" stroke-linecap="butt"/>
<text transform="translate(500.95,381.90) scale(0.97,1)" font-size="9.4" font-weight="bold" fill="#000" stroke="#000" stroke-width="0.25">10<tspan font-size="5.8" dx="0.62" dy="-2.80">5</tspan></text>
<text x="365.60" y="218.50" font-size="11.3" font-weight="bold" text-anchor="start" fill="#000" textLength="86.3" lengthAdjust="spacingAndGlyphs" stroke="#000" stroke-width="0.25">CHO-cynoMUC12</text>
<text x="262.90" y="217.00" font-size="16.9" font-weight="bold" text-anchor="start" fill="#000" stroke="#000" stroke-width="0.2">D</text>
<text transform="translate(284.7,292.3) rotate(-90)" font-size="11" font-weight="bold" text-anchor="middle" fill="#000" textLength="75.4" lengthAdjust="spacing">% Cytotoxicity</text>
<text x="408.30" y="394.60" font-size="9.9" font-weight="bold" text-anchor="middle" fill="#000" textLength="68.2" lengthAdjust="spacingAndGlyphs"><tspan font-weight="normal" stroke="#000" stroke-width="0.25">[BiTE]</tspan> (pmol/L)</text>
<line x1="314.80" y1="239.00" x2="326.90" y2="239.00" stroke="#000" stroke-width="1.5" stroke-linecap="butt"/>
<circle cx="320.85" cy="239.00" r="2.3" fill="#000"/>
<text x="333.90" y="242.00" font-size="8.5" font-weight="normal" text-anchor="start" fill="#000" stroke="#000" stroke-width="0.3">MUC12 HLE BiTE molecule</text>
<line x1="314.80" y1="254.80" x2="326.90" y2="254.80" stroke="#858585" stroke-width="1.5" stroke-linecap="butt"/>
<circle cx="320.85" cy="254.80" r="1.60" fill="#ddd" stroke="#858585" stroke-width="1.2"/>
<text x="333.90" y="257.80" font-size="8.5" font-weight="normal" text-anchor="start" fill="#000" stroke="#000" stroke-width="0.3">Control BiTE molecule</text>
<path d="M326.55,336.89 L328.61,336.80 L330.67,336.69 L332.73,336.56 L334.79,336.39 L336.85,336.19 L338.91,335.96 L340.97,335.68 L343.03,335.36 L345.09,335.01 L347.15,334.63 L349.21,334.23 L351.27,333.83 L353.33,333.44 L355.39,333.06 L357.45,332.72 L359.51,332.42 L361.57,332.16 L363.63,331.93 L365.70,331.74 L367.76,331.59 L369.82,331.47 L371.88,331.37 L373.94,331.29 L376.00,331.22 L378.06,331.17 L380.12,331.13 L382.18,331.10 L384.24,331.08 L386.30,331.06 L388.36,331.05 L390.42,331.04 L392.48,331.03 L394.54,331.02 L396.60,331.02 L398.66,331.01 L400.72,331.01 L402.78,331.01 L404.84,331.01 L406.90,331.00 L408.96,331.00 L411.02,331.00 L413.08,331.00 L415.14,331.00 L417.20,331.00 L419.26,331.00 L421.32,331.00 L423.38,331.00 L425.44,331.00 L427.50,331.00 L429.56,331.00 L431.62,331.00 L433.68,331.00 L435.74,331.00 L437.80,331.00 L439.86,331.00 L441.93,331.00 L443.99,331.00 L446.05,331.00 L448.11,331.00 L450.17,331.00 L452.23,331.00 L454.29,331.00 L456.35,331.00 L458.41,331.00 L460.47,331.00 L462.53,331.00 L464.59,331.00 L466.65,331.00 L468.71,331.00 L470.77,331.00 L472.83,331.00 L474.89,331.00 L476.95,331.00 L479.01,331.00 L481.07,331.00 L483.13,331.00 L485.19,331.00 L487.25,331.00 L489.31,331.00 L491.37,331.00" fill="none" stroke="#929292" stroke-width="1.5" stroke-linejoin="round" stroke-linecap="round"/>
<line x1="326.55" y1="332.50" x2="326.55" y2="338.30" stroke="#707070" stroke-width="1.35" stroke-linecap="butt"/>
<line x1="324.15" y1="332.50" x2="328.95" y2="332.50" stroke="#707070" stroke-width="1.35" stroke-linecap="butt"/>
<line x1="324.15" y1="338.30" x2="328.95" y2="338.30" stroke="#707070" stroke-width="1.35" stroke-linecap="butt"/>
<circle cx="326.55" cy="336.40" r="1.73" fill="#fff" stroke="#707070" stroke-width="1.25"/>
<line x1="334.40" y1="331.00" x2="334.40" y2="337.00" stroke="#707070" stroke-width="1.35" stroke-linecap="butt"/>
<line x1="332.00" y1="331.00" x2="336.80" y2="331.00" stroke="#707070" stroke-width="1.35" stroke-linecap="butt"/>
<line x1="332.00" y1="337.00" x2="336.80" y2="337.00" stroke="#707070" stroke-width="1.35" stroke-linecap="butt"/>
<circle cx="334.40" cy="334.70" r="1.73" fill="#fff" stroke="#707070" stroke-width="1.25"/>
<line x1="342.25" y1="327.30" x2="342.25" y2="336.40" stroke="#707070" stroke-width="1.35" stroke-linecap="butt"/>
<line x1="339.85" y1="327.30" x2="344.65" y2="327.30" stroke="#707070" stroke-width="1.35" stroke-linecap="butt"/>
<line x1="339.85" y1="336.40" x2="344.65" y2="336.40" stroke="#707070" stroke-width="1.35" stroke-linecap="butt"/>
<circle cx="342.25" cy="331.20" r="1.73" fill="#fff" stroke="#707070" stroke-width="1.25"/>
<line x1="350.10" y1="330.70" x2="350.10" y2="334.70" stroke="#707070" stroke-width="1.35" stroke-linecap="butt"/>
<line x1="347.70" y1="330.70" x2="352.50" y2="330.70" stroke="#707070" stroke-width="1.35" stroke-linecap="butt"/>
<line x1="347.70" y1="334.70" x2="352.50" y2="334.70" stroke="#707070" stroke-width="1.35" stroke-linecap="butt"/>
<circle cx="350.10" cy="333.00" r="1.73" fill="#fff" stroke="#707070" stroke-width="1.25"/>
<line x1="357.94" y1="328.60" x2="357.94" y2="334.70" stroke="#707070" stroke-width="1.35" stroke-linecap="butt"/>
<line x1="355.54" y1="328.60" x2="360.34" y2="328.60" stroke="#707070" stroke-width="1.35" stroke-linecap="butt"/>
<line x1="355.54" y1="334.70" x2="360.34" y2="334.70" stroke="#707070" stroke-width="1.35" stroke-linecap="butt"/>
<circle cx="357.94" cy="331.20" r="1.73" fill="#fff" stroke="#707070" stroke-width="1.25"/>
<line x1="365.79" y1="323.80" x2="365.79" y2="332.00" stroke="#707070" stroke-width="1.35" stroke-linecap="butt"/>
<line x1="363.39" y1="323.80" x2="368.19" y2="323.80" stroke="#707070" stroke-width="1.35" stroke-linecap="butt"/>
<line x1="363.39" y1="332.00" x2="368.19" y2="332.00" stroke="#707070" stroke-width="1.35" stroke-linecap="butt"/>
<circle cx="365.79" cy="330.40" r="1.73" fill="#fff" stroke="#707070" stroke-width="1.25"/>
<line x1="373.64" y1="328.60" x2="373.64" y2="333.50" stroke="#707070" stroke-width="1.35" stroke-linecap="butt"/>
<line x1="371.24" y1="328.60" x2="376.04" y2="328.60" stroke="#707070" stroke-width="1.35" stroke-linecap="butt"/>
<line x1="371.24" y1="333.50" x2="376.04" y2="333.50" stroke="#707070" stroke-width="1.35" stroke-linecap="butt"/>
<circle cx="373.64" cy="331.20" r="1.73" fill="#fff" stroke="#707070" stroke-width="1.25"/>
<line x1="381.49" y1="329.50" x2="381.49" y2="333.50" stroke="#707070" stroke-width="1.35" stroke-linecap="butt"/>
<line x1="379.09" y1="329.50" x2="383.89" y2="329.50" stroke="#707070" stroke-width="1.35" stroke-linecap="butt"/>
<line x1="379.09" y1="333.50" x2="383.89" y2="333.50" stroke="#707070" stroke-width="1.35" stroke-linecap="butt"/>
<circle cx="381.49" cy="331.80" r="1.73" fill="#fff" stroke="#707070" stroke-width="1.25"/>
<line x1="389.34" y1="329.00" x2="389.34" y2="334.00" stroke="#707070" stroke-width="1.35" stroke-linecap="butt"/>
<line x1="386.94" y1="329.00" x2="391.74" y2="329.00" stroke="#707070" stroke-width="1.35" stroke-linecap="butt"/>
<line x1="386.94" y1="334.00" x2="391.74" y2="334.00" stroke="#707070" stroke-width="1.35" stroke-linecap="butt"/>
<circle cx="389.34" cy="331.80" r="1.73" fill="#fff" stroke="#707070" stroke-width="1.25"/>
<circle cx="397.19" cy="331.80" r="1.73" fill="#fff" stroke="#707070" stroke-width="1.25"/>
<line x1="405.04" y1="321.70" x2="405.04" y2="334.70" stroke="#707070" stroke-width="1.35" stroke-linecap="butt"/>
<line x1="402.64" y1="321.70" x2="407.44" y2="321.70" stroke="#707070" stroke-width="1.35" stroke-linecap="butt"/>
<line x1="402.64" y1="334.70" x2="407.44" y2="334.70" stroke="#707070" stroke-width="1.35" stroke-linecap="butt"/>
<circle cx="405.04" cy="328.30" r="1.73" fill="#fff" stroke="#707070" stroke-width="1.25"/>
<line x1="412.89" y1="320.60" x2="412.89" y2="335.00" stroke="#707070" stroke-width="1.35" stroke-linecap="butt"/>
<line x1="410.49" y1="320.60" x2="415.29" y2="320.60" stroke="#707070" stroke-width="1.35" stroke-linecap="butt"/>
<line x1="410.49" y1="335.00" x2="415.29" y2="335.00" stroke="#707070" stroke-width="1.35" stroke-linecap="butt"/>
<circle cx="412.89" cy="327.70" r="1.73" fill="#fff" stroke="#707070" stroke-width="1.25"/>
<line x1="420.73" y1="322.00" x2="420.73" y2="334.00" stroke="#707070" stroke-width="1.35" stroke-linecap="butt"/>
<line x1="418.33" y1="322.00" x2="423.13" y2="322.00" stroke="#707070" stroke-width="1.35" stroke-linecap="butt"/>
<line x1="418.33" y1="334.00" x2="423.13" y2="334.00" stroke="#707070" stroke-width="1.35" stroke-linecap="butt"/>
<circle cx="420.73" cy="327.70" r="1.73" fill="#fff" stroke="#707070" stroke-width="1.25"/>
<line x1="428.58" y1="323.00" x2="428.58" y2="332.00" stroke="#707070" stroke-width="1.35" stroke-linecap="butt"/>
<line x1="426.18" y1="323.00" x2="430.98" y2="323.00" stroke="#707070" stroke-width="1.35" stroke-linecap="butt"/>
<line x1="426.18" y1="332.00" x2="430.98" y2="332.00" stroke="#707070" stroke-width="1.35" stroke-linecap="butt"/>
<circle cx="428.58" cy="327.70" r="1.73" fill="#fff" stroke="#707070" stroke-width="1.25"/>
<line x1="436.43" y1="322.50" x2="436.43" y2="337.00" stroke="#707070" stroke-width="1.35" stroke-linecap="butt"/>
<line x1="434.03" y1="322.50" x2="438.83" y2="322.50" stroke="#707070" stroke-width="1.35" stroke-linecap="butt"/>
<line x1="434.03" y1="337.00" x2="438.83" y2="337.00" stroke="#707070" stroke-width="1.35" stroke-linecap="butt"/>
<circle cx="436.43" cy="329.00" r="1.73" fill="#fff" stroke="#707070" stroke-width="1.25"/>
<line x1="444.28" y1="323.80" x2="444.28" y2="337.90" stroke="#707070" stroke-width="1.35" stroke-linecap="butt"/>
<line x1="441.88" y1="323.80" x2="446.68" y2="323.80" stroke="#707070" stroke-width="1.35" stroke-linecap="butt"/>
<line x1="441.88" y1="337.90" x2="446.68" y2="337.90" stroke="#707070" stroke-width="1.35" stroke-linecap="butt"/>
<circle cx="444.28" cy="330.20" r="1.73" fill="#fff" stroke="#707070" stroke-width="1.25"/>
<line x1="452.13" y1="328.30" x2="452.13" y2="337.90" stroke="#707070" stroke-width="1.35" stroke-linecap="butt"/>
<line x1="449.73" y1="328.30" x2="454.53" y2="328.30" stroke="#707070" stroke-width="1.35" stroke-linecap="butt"/>
<line x1="449.73" y1="337.90" x2="454.53" y2="337.90" stroke="#707070" stroke-width="1.35" stroke-linecap="butt"/>
<circle cx="452.13" cy="333.50" r="1.73" fill="#fff" stroke="#707070" stroke-width="1.25"/>
<line x1="459.98" y1="325.00" x2="459.98" y2="340.40" stroke="#707070" stroke-width="1.35" stroke-linecap="butt"/>
<line x1="457.58" y1="325.00" x2="462.38" y2="325.00" stroke="#707070" stroke-width="1.35" stroke-linecap="butt"/>
<line x1="457.58" y1="340.40" x2="462.38" y2="340.40" stroke="#707070" stroke-width="1.35" stroke-linecap="butt"/>
<circle cx="459.98" cy="332.70" r="1.73" fill="#fff" stroke="#707070" stroke-width="1.25"/>
<line x1="467.83" y1="323.50" x2="467.83" y2="329.60" stroke="#707070" stroke-width="1.35" stroke-linecap="butt"/>
<line x1="465.43" y1="323.50" x2="470.23" y2="323.50" stroke="#707070" stroke-width="1.35" stroke-linecap="butt"/>
<line x1="465.43" y1="329.60" x2="470.23" y2="329.60" stroke="#707070" stroke-width="1.35" stroke-linecap="butt"/>
<circle cx="467.83" cy="326.30" r="1.73" fill="#fff" stroke="#707070" stroke-width="1.25"/>
<circle cx="475.67" cy="330.70" r="1.73" fill="#fff" stroke="#707070" stroke-width="1.25"/>
<line x1="483.52" y1="333.00" x2="483.52" y2="337.30" stroke="#707070" stroke-width="1.35" stroke-linecap="butt"/>
<line x1="481.12" y1="333.00" x2="485.92" y2="333.00" stroke="#707070" stroke-width="1.35" stroke-linecap="butt"/>
<line x1="481.12" y1="337.30" x2="485.92" y2="337.30" stroke="#707070" stroke-width="1.35" stroke-linecap="butt"/>
<circle cx="483.52" cy="335.00" r="1.73" fill="#fff" stroke="#707070" stroke-width="1.25"/>
<line x1="491.37" y1="333.60" x2="491.37" y2="339.20" stroke="#707070" stroke-width="1.35" stroke-linecap="butt"/>
<line x1="488.97" y1="333.60" x2="493.77" y2="333.60" stroke="#707070" stroke-width="1.35" stroke-linecap="butt"/>
<line x1="488.97" y1="339.20" x2="493.77" y2="339.20" stroke="#707070" stroke-width="1.35" stroke-linecap="butt"/>
<circle cx="491.37" cy="336.00" r="1.73" fill="#fff" stroke="#707070" stroke-width="1.25"/>
<path d="M326.55,339.30 L327.92,339.30 L329.30,339.30 L330.67,339.30 L332.04,339.30 L333.42,339.30 L334.79,339.30 L336.16,339.30 L337.54,339.30 L338.91,339.30 L340.29,339.30 L341.66,339.30 L343.03,339.30 L344.41,339.30 L345.78,339.30 L347.15,339.30 L348.53,339.30 L349.90,339.30 L351.27,339.30 L352.65,339.30 L354.02,339.30 L355.39,339.30 L356.77,339.30 L358.14,339.30 L359.51,339.30 L360.89,339.30 L362.26,339.30 L363.63,339.30 L365.01,339.30 L366.38,339.30 L367.76,339.30 L369.13,339.30 L370.50,339.30 L371.88,339.30 L373.25,339.30 L374.62,339.30 L376.00,339.30 L377.37,339.30 L378.74,339.29 L380.12,339.29 L381.49,339.29 L382.86,339.29 L384.24,339.29 L385.61,339.29 L386.98,339.28 L388.36,339.28 L389.73,339.28 L391.11,339.27 L392.48,339.27 L393.85,339.26 L395.23,339.25 L396.60,339.24 L397.97,339.23 L399.35,339.21 L400.72,339.19 L402.09,339.17 L403.47,339.14 L404.84,339.11 L406.21,339.07 L407.59,339.02 L408.96,338.96 L410.33,338.88 L411.71,338.79 L413.08,338.69 L414.45,338.56 L415.83,338.40 L417.20,338.22 L418.58,337.99 L419.95,337.72 L421.32,337.39 L422.70,337.00 L424.07,336.53 L425.44,335.96 L426.82,335.29 L428.19,334.49 L429.56,333.54 L430.94,332.42 L432.31,331.11 L433.68,329.57 L435.06,327.80 L436.43,325.76 L437.80,323.44 L439.18,320.82 L440.55,317.91 L441.93,314.73 L443.30,311.28 L444.67,307.61 L446.05,303.77 L447.42,299.82 L448.79,295.84 L450.17,291.90 L451.54,288.06 L452.91,284.39 L454.29,280.95 L455.66,277.76 L457.03,274.85 L458.41,272.24 L459.78,269.92 L461.15,267.89 L462.53,266.11 L463.90,264.58 L465.27,263.27 L466.65,262.15 L468.02,261.20 L469.40,260.40 L470.77,259.73 L472.14,259.17 L473.52,258.70 L474.89,258.31 L476.26,257.98 L477.64,257.71 L479.01,257.48 L480.38,257.29 L481.76,257.14 L483.13,257.01 L484.50,256.90 L485.88,256.82 L487.25,256.74 L488.62,256.68 L490.00,256.63 L491.37,256.59" fill="none" stroke="#000" stroke-width="2.05" stroke-linejoin="round" stroke-linecap="round"/>
<line x1="326.55" y1="336.40" x2="326.55" y2="347.30" stroke="#000" stroke-width="1.5" stroke-linecap="butt"/>
<line x1="324.15" y1="336.40" x2="328.95" y2="336.40" stroke="#000" stroke-width="1.5" stroke-linecap="butt"/>
<line x1="324.15" y1="347.30" x2="328.95" y2="347.30" stroke="#000" stroke-width="1.5" stroke-linecap="butt"/>
<circle cx="326.55" cy="341.60" r="1.73" fill="#fff" stroke="#000" stroke-width="1.25"/>
<line x1="334.40" y1="337.30" x2="334.40" y2="343.40" stroke="#000" stroke-width="1.5" stroke-linecap="butt"/>
<line x1="332.00" y1="337.30" x2="336.80" y2="337.30" stroke="#000" stroke-width="1.5" stroke-linecap="butt"/>
<line x1="332.00" y1="343.40" x2="336.80" y2="343.40" stroke="#000" stroke-width="1.5" stroke-linecap="butt"/>
<circle cx="334.40" cy="340.40" r="1.73" fill="#fff" stroke="#000" stroke-width="1.25"/>
<line x1="342.25" y1="340.80" x2="342.25" y2="346.30" stroke="#000" stroke-width="1.5" stroke-linecap="butt"/>
<line x1="339.85" y1="340.80" x2="344.65" y2="340.80" stroke="#000" stroke-width="1.5" stroke-linecap="butt"/>
<line x1="339.85" y1="346.30" x2="344.65" y2="346.30" stroke="#000" stroke-width="1.5" stroke-linecap="butt"/>
<circle cx="342.25" cy="343.40" r="1.73" fill="#fff" stroke="#000" stroke-width="1.25"/>
<circle cx="350.10" cy="337.00" r="1.73" fill="#fff" stroke="#000" stroke-width="1.25"/>
<line x1="357.94" y1="334.70" x2="357.94" y2="346.80" stroke="#000" stroke-width="1.5" stroke-linecap="butt"/>
<line x1="355.54" y1="334.70" x2="360.34" y2="334.70" stroke="#000" stroke-width="1.5" stroke-linecap="butt"/>
<line x1="355.54" y1="346.80" x2="360.34" y2="346.80" stroke="#000" stroke-width="1.5" stroke-linecap="butt"/>
<circle cx="357.94" cy="341.10" r="1.73" fill="#fff" stroke="#000" stroke-width="1.25"/>
<line x1="365.79" y1="327.80" x2="365.79" y2="345.60" stroke="#000" stroke-width="1.5" stroke-linecap="butt"/>
<line x1="363.39" y1="327.80" x2="368.19" y2="327.80" stroke="#000" stroke-width="1.5" stroke-linecap="butt"/>
<line x1="363.39" y1="345.60" x2="368.19" y2="345.60" stroke="#000" stroke-width="1.5" stroke-linecap="butt"/>
<circle cx="365.79" cy="336.80" r="1.73" fill="#fff" stroke="#000" stroke-width="1.25"/>
<line x1="373.64" y1="333.50" x2="373.64" y2="343.40" stroke="#000" stroke-width="1.5" stroke-linecap="butt"/>
<line x1="371.24" y1="333.50" x2="376.04" y2="333.50" stroke="#000" stroke-width="1.5" stroke-linecap="butt"/>
<line x1="371.24" y1="343.40" x2="376.04" y2="343.40" stroke="#000" stroke-width="1.5" stroke-linecap="butt"/>
<circle cx="373.64" cy="337.30" r="1.73" fill="#fff" stroke="#000" stroke-width="1.25"/>
<line x1="381.49" y1="333.00" x2="381.49" y2="338.00" stroke="#000" stroke-width="1.5" stroke-linecap="butt"/>
<line x1="379.09" y1="333.00" x2="383.89" y2="333.00" stroke="#000" stroke-width="1.5" stroke-linecap="butt"/>
<line x1="379.09" y1="338.00" x2="383.89" y2="338.00" stroke="#000" stroke-width="1.5" stroke-linecap="butt"/>
<circle cx="381.49" cy="335.60" r="1.73" fill="#fff" stroke="#000" stroke-width="1.25"/>
<circle cx="389.34" cy="342.00" r="1.73" fill="#fff" stroke="#000" stroke-width="1.25"/>
<circle cx="397.19" cy="338.70" r="1.73" fill="#fff" stroke="#000" stroke-width="1.25"/>
<line x1="405.04" y1="341.70" x2="405.04" y2="349.40" stroke="#000" stroke-width="1.5" stroke-linecap="butt"/>
<line x1="402.64" y1="341.70" x2="407.44" y2="341.70" stroke="#000" stroke-width="1.5" stroke-linecap="butt"/>
<line x1="402.64" y1="349.40" x2="407.44" y2="349.40" stroke="#000" stroke-width="1.5" stroke-linecap="butt"/>
<circle cx="405.04" cy="345.00" r="1.73" fill="#fff" stroke="#000" stroke-width="1.25"/>
<line x1="412.89" y1="333.50" x2="412.89" y2="337.30" stroke="#000" stroke-width="1.5" stroke-linecap="butt"/>
<line x1="410.49" y1="333.50" x2="415.29" y2="333.50" stroke="#000" stroke-width="1.5" stroke-linecap="butt"/>
<line x1="410.49" y1="337.30" x2="415.29" y2="337.30" stroke="#000" stroke-width="1.5" stroke-linecap="butt"/>
<circle cx="412.89" cy="335.00" r="1.73" fill="#fff" stroke="#000" stroke-width="1.25"/>
<circle cx="420.73" cy="339.80" r="1.73" fill="#fff" stroke="#000" stroke-width="1.25"/>
<circle cx="428.58" cy="337.00" r="1.73" fill="#fff" stroke="#000" stroke-width="1.25"/>
<line x1="436.43" y1="322.50" x2="436.43" y2="333.00" stroke="#000" stroke-width="1.5" stroke-linecap="butt"/>
<line x1="434.03" y1="322.50" x2="438.83" y2="322.50" stroke="#000" stroke-width="1.5" stroke-linecap="butt"/>
<line x1="434.03" y1="333.00" x2="438.83" y2="333.00" stroke="#000" stroke-width="1.5" stroke-linecap="butt"/>
<circle cx="436.43" cy="327.30" r="1.73" fill="#fff" stroke="#000" stroke-width="1.25"/>
<line x1="444.28" y1="299.20" x2="444.28" y2="315.80" stroke="#000" stroke-width="1.5" stroke-linecap="butt"/>
<line x1="441.88" y1="299.20" x2="446.68" y2="299.20" stroke="#000" stroke-width="1.5" stroke-linecap="butt"/>
<line x1="441.88" y1="315.80" x2="446.68" y2="315.80" stroke="#000" stroke-width="1.5" stroke-linecap="butt"/>
<circle cx="444.28" cy="307.40" r="1.73" fill="#fff" stroke="#000" stroke-width="1.25"/>
<line x1="452.13" y1="277.30" x2="452.13" y2="294.70" stroke="#000" stroke-width="1.5" stroke-linecap="butt"/>
<line x1="449.73" y1="277.30" x2="454.53" y2="277.30" stroke="#000" stroke-width="1.5" stroke-linecap="butt"/>
<line x1="449.73" y1="294.70" x2="454.53" y2="294.70" stroke="#000" stroke-width="1.5" stroke-linecap="butt"/>
<circle cx="452.13" cy="286.40" r="1.73" fill="#fff" stroke="#000" stroke-width="1.25"/>
<line x1="459.98" y1="266.70" x2="459.98" y2="276.20" stroke="#000" stroke-width="1.5" stroke-linecap="butt"/>
<line x1="457.58" y1="266.70" x2="462.38" y2="266.70" stroke="#000" stroke-width="1.5" stroke-linecap="butt"/>
<line x1="457.58" y1="276.20" x2="462.38" y2="276.20" stroke="#000" stroke-width="1.5" stroke-linecap="butt"/>
<circle cx="459.98" cy="271.70" r="1.73" fill="#fff" stroke="#000" stroke-width="1.25"/>
<circle cx="467.83" cy="264.40" r="1.73" fill="#fff" stroke="#000" stroke-width="1.25"/>
<line x1="475.67" y1="252.40" x2="475.67" y2="259.90" stroke="#000" stroke-width="1.5" stroke-linecap="butt"/>
<line x1="473.27" y1="252.40" x2="478.07" y2="252.40" stroke="#000" stroke-width="1.5" stroke-linecap="butt"/>
<line x1="473.27" y1="259.90" x2="478.07" y2="259.90" stroke="#000" stroke-width="1.5" stroke-linecap="butt"/>
<circle cx="475.67" cy="256.30" r="1.73" fill="#fff" stroke="#000" stroke-width="1.25"/>
<line x1="483.52" y1="251.80" x2="483.52" y2="259.20" stroke="#000" stroke-width="1.5" stroke-linecap="butt"/>
<line x1="481.12" y1="251.80" x2="485.92" y2="251.80" stroke="#000" stroke-width="1.5" stroke-linecap="butt"/>
<line x1="481.12" y1="259.20" x2="485.92" y2="259.20" stroke="#000" stroke-width="1.5" stroke-linecap="butt"/>
<circle cx="483.52" cy="255.80" r="1.73" fill="#fff" stroke="#000" stroke-width="1.25"/>
<line x1="491.37" y1="251.30" x2="491.37" y2="260.40" stroke="#000" stroke-width="1.5" stroke-linecap="butt"/>
<line x1="488.97" y1="251.30" x2="493.77" y2="251.30" stroke="#000" stroke-width="1.5" stroke-linecap="butt"/>
<line x1="488.97" y1="260.40" x2="493.77" y2="260.40" stroke="#000" stroke-width="1.5" stroke-linecap="butt"/>
<circle cx="491.37" cy="256.30" r="1.73" fill="#fff" stroke="#000" stroke-width="1.25"/>
</g>
</svg>
</body></html>
